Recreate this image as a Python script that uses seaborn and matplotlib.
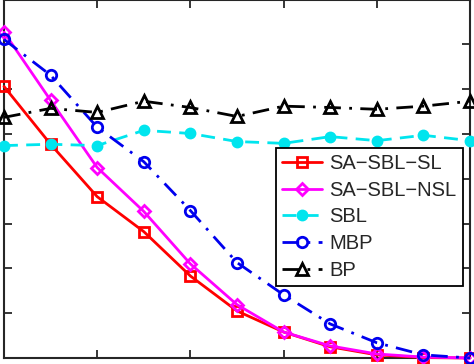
import numpy as np
import pandas as pd
import matplotlib
matplotlib.use('Agg')
import matplotlib.pyplot as plt
import seaborn as sns

# values (x = 0..10)
x_vals = list(range(11))
sa_sbl_sl = [0.606, 0.477, 0.360, 0.282, 0.183, 0.105, 0.058, 0.025, 0.007, 0.001, 0.0]
sa_sbl_nsl = [0.727, 0.575, 0.425, 0.327, 0.210, 0.119, 0.058, 0.027, 0.009, 0.002, 0.0]
sbl = [0.474, 0.477, 0.474, 0.508, 0.501, 0.483, 0.479, 0.494, 0.485, 0.497, 0.485]
mbp = [0.711, 0.631, 0.515, 0.438, 0.329, 0.213, 0.141, 0.076, 0.034, 0.007, 0.0]
bp = [0.537, 0.557, 0.548, 0.573, 0.559, 0.539, 0.562, 0.559, 0.555, 0.562, 0.573]
labels = ['SA\u2212SBL\u2212SL', 'SA\u2212SBL\u2212NSL', 'SBL', 'MBP', 'BP']

series = [sa_sbl_sl, sa_sbl_nsl, sbl, mbp, bp]
df = pd.concat([pd.DataFrame({'x': x_vals, 'y': s, 'method': lab})
                for s, lab in zip(series, labels)], ignore_index=True)

sns.set_style('ticks')
plt.rcParams['font.family'] = ['Liberation Sans', 'DejaVu Sans']

fig = plt.figure(figsize=(4.74, 3.64), dpi=100)
ax = fig.add_axes([4 / 474, 6 / 364, 466 / 474, 358.5 / 364])

styles = {
    labels[0]: dict(color='#ff0000', ls='-', marker='s', mfc='none', ms=6.5),
    labels[1]: dict(color='#ff00ff', ls='-', marker='D', mfc='none', ms=6.5),
    labels[2]: dict(color='#00e5ee', ls=(0, (5, 3)), marker='o', mfc='#00e5ee', ms=6.5),
    labels[3]: dict(color='#0000ee', ls=(0, (6, 3, 1, 3)), marker='o', mfc='none', ms=7.5),
    labels[4]: dict(color='black', ls=(0, (6, 3, 1, 3)), marker='^', mfc='none', ms=8.5),
}

for lab in labels:
    st = styles[lab]
    sns.lineplot(data=df[df['method'] == lab], x='x', y='y', ax=ax,
                 color=st['color'], linestyle=st['ls'], marker=st['marker'],
                 markerfacecolor=st['mfc'], markeredgecolor=st['color'],
                 markeredgewidth=2, markersize=st['ms'], linewidth=2,
                 label=lab, clip_on=False, zorder=3)

ax.set_xlim(0, 10)
ax.set_ylim(0, 0.8)
ax.set_xticks([0, 2, 4, 6, 8, 10])
ax.set_yticks(np.arange(0, 0.81, 0.1))
ax.tick_params(direction='in', length=6, width=1.3, top=True, right=True,
               labelbottom=False, labelleft=False)
for sp in ax.spines.values():
    sp.set_visible(True)
    sp.set_linewidth(1.5)
ax.set_xlabel('')
ax.set_ylabel('')

leg = ax.legend(loc='upper left', bbox_to_anchor=(276 / 474, 1 - 148 / 364),
                bbox_transform=fig.transFigure, borderaxespad=0,
                fancybox=False, framealpha=1, edgecolor='black',
                fontsize=14.5, handlelength=2.0, labelspacing=0.38,
                handletextpad=0.35, borderpad=0.3)
leg.get_frame().set_linewidth(1.3)

fig.savefig('out.png', dpi=100)
